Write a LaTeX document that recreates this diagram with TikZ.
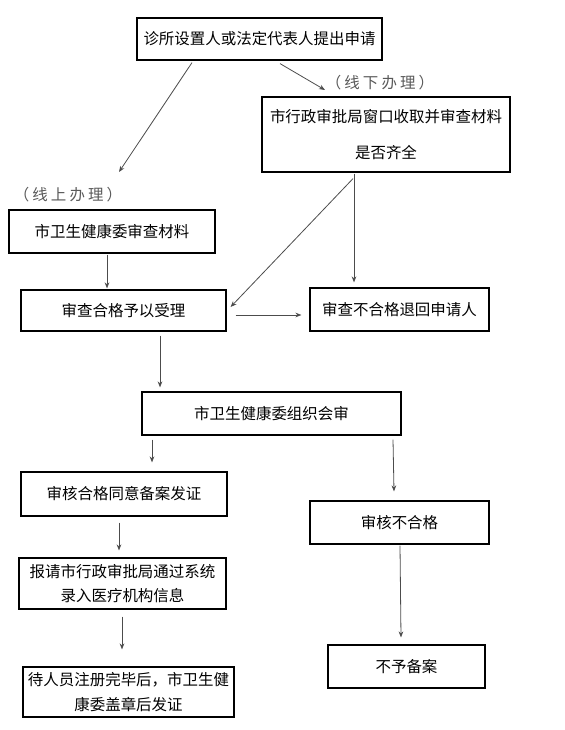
\documentclass[tikz,border=0pt]{standalone}
\usepackage{fontspec}
\setmainfont{Noto Sans CJK SC}
\newfontfamily\wayfont[LetterSpace=20]{Noto Sans CJK SC}
\usetikzlibrary{arrows.meta}

\begin{document}
\begin{tikzpicture}[x=0.75pt, y=-0.75pt,
  box/.style={draw=black, line width=0.9pt, inner sep=2pt, align=center, font=\fontsize{11.6}{14}\selectfont},
  way/.style={text=black!65, inner sep=0pt, font=\wayfont\fontsize{11.6}{14}\selectfont},
  arrow/.style={draw=black!70, line width=0.6pt, -{Stealth[length=4.5pt, width=3.5pt]}}]
\useasboundingbox (0,0) rectangle (564,730);

\node[box, minimum width=183.75pt, minimum height=31.5pt] (apply) at (259.5,39) {诊所设置人或法定代表人提出申请};
\node[way] (offline) at (380,83) {（线下办理）};
\node[box, minimum width=186pt, minimum height=56.25pt] (window) at (386,134.5) {市行政审批局窗口收取并审查材料\\[13pt]是否齐全};
\node[way] (online) at (68,195) {（线上办理）};
\node[box, minimum width=154.5pt, minimum height=32.25pt] (review) at (112,231.5) {市卫生健康委审查材料};
\node[box, minimum width=153.75pt, minimum height=30.75pt] (accept) at (123.5,310.5) {审查合格予以受理};
\node[box, minimum width=134.25pt, minimum height=32.25pt] (reject) at (399.5,309.5) {审查不合格退回申请人};
\node[box, minimum width=194.25pt, minimum height=32.25pt] (meeting) at (271.5,413.5) {市卫生健康委组织会审};
\node[box, minimum width=154.5pt, minimum height=33pt] (pass) at (124,494) {审核合格同意备案发证};
\node[box, minimum width=134.25pt, minimum height=32.25pt] (fail) at (399.5,522.5) {审核不合格};
\node[box, minimum width=155.25pt, minimum height=38.25pt] (submit) at (122.5,583.5) {报请市行政审批局通过系统\\[4pt]录入医疗机构信息};
\node[box, minimum width=117.75pt, minimum height=32.25pt] (refuse) at (406.5,666.5) {不予备案};
\node[box, minimum width=158.25pt, minimum height=37.5pt] (issue) at (128.5,692) {待人员注册完毕后，市卫生健\\[4.75pt]康委盖章后发证};

\coordinate (onlineTip) at (119,172);
\coordinate (offlineTip) at (325,90);

\draw[arrow] ([shift={(-67.5,2)}]apply.south) -- (onlineTip);
\draw[arrow] ([shift={(20.5,3)}]apply.south) -- (offlineTip);
\draw[arrow] ([shift={(-32,1)}]window.south) -- ([shift={(-45.5,-5)}]reject.north);
\draw[arrow] ([shift={(-33,6)}]window.south) -- ([shift={(4,-3.5)}]accept.east);
\draw[arrow] ([shift={(-5,1)}]review.south) -- ([shift={(-16.5,-1)}]accept.north);
\draw[arrow] ([shift={(9,4.5)}]accept.east) -- ([shift={(-8,5.5)}]reject.west);
\draw[arrow] ([shift={(36.5,4)}]accept.south) -- ([shift={(-111.5,-4)}]meeting.north);
\draw[arrow] ([shift={(-119.5,4)}]meeting.south) -- ([shift={(28,-9)}]pass.north);
\draw[arrow] ([shift={(121.5,4)}]meeting.south) -- ([shift={(-5.5,-9)}]fail.north);
\draw[arrow] ([shift={(-5,6)}]pass.south) -- ([shift={(-3.5,-7)}]submit.north);
\draw[arrow] ([shift={(-0.5,7)}]submit.south) -- ([shift={(-6.5,-17)}]issue.north);
\draw[arrow] ([shift={(0.5,1)}]fail.south) -- ([shift={(-5.5,-7)}]refuse.north);

\end{tikzpicture}
\end{document}
